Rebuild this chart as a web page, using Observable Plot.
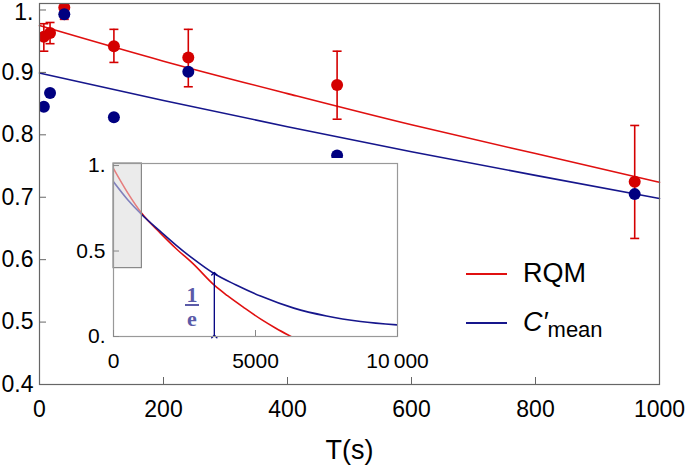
<!DOCTYPE html>
<html><head><meta charset="utf-8">
<script src="https://cdn.jsdelivr.net/npm/d3@7"></script>
<script src="https://cdn.jsdelivr.net/npm/@observablehq/plot@0.6"></script>
<style>
body{margin:0;background:#fff;}
#wrap{position:relative;width:685px;height:474px;font-family:"Liberation Sans",Arial,sans-serif;overflow:hidden;}
#inset{position:absolute;left:73px;top:158px;}
.sw{position:absolute;left:466px;width:41px;height:2px;}
.lg{position:absolute;left:523px;font-size:27px;line-height:27px;color:#000;white-space:nowrap;}
#frac{position:absolute;left:181px;top:285px;width:22px;text-align:center;font:bold 22px "Liberation Serif",serif;color:#5b5ba8;line-height:19px;}
</style></head><body><div id="wrap"></div>
<script>
// ---- main chart data ----
const T = [7, 17, 40, 120, 240, 480, 960];
const rqmVal = [0.957, 0.963, 1.004, 0.942, 0.924, 0.880, 0.725];
const rqmLo  = [0.934, 0.946, 0.985, 0.916, 0.877, 0.825, 0.634];
const rqmHi  = [0.978, 0.980, 1.030, 0.969, 0.969, 0.934, 0.815];
const cmeanVal = [0.845, 0.867, 0.993, 0.828, 0.901, 0.767, 0.705];
const fitT = [0, 200, 400, 600, 800, 1000];
const rqmFit = [0.975, 0.918, 0.866, 0.816, 0.770, 0.724];
const cmeanFit = [0.899, 0.855, 0.813, 0.773, 0.735, 0.698];
const xTicks = [0, 200, 400, 600, 800, 1000];
const xTickLabels = ["0", "200", "400", "600", "800", "1000"];
const yTicks = [0.4, 0.5, 0.6, 0.7, 0.8, 0.9, 1.0];
const yTickLabels = ["0.4", "0.5", "0.6", "0.7", "0.8", "0.9", "1."];
// ---- inset data ----
const insRqmT = [0, 500, 1000, 1650, 2200, 2800, 3550, 4000, 4600, 5200, 5700, 6250];
const insRqm  = [0.982, 0.840, 0.719, 0.605, 0.515, 0.426, 0.300, 0.240, 0.168, 0.100, 0.050, 0.0];
const insCmT  = [0, 500, 1000, 1650, 2200, 2800, 3550, 4300, 5200, 6350, 7500, 8700, 10000];
const insCm   = [0.905, 0.800, 0.712, 0.615, 0.535, 0.455, 0.367, 0.303, 0.235, 0.166, 0.120, 0.088, 0.068];
const greyBox = [{x1: 0, x2: 1000, y1: 0.4, y2: 1.012}];
const arrowT = 3550, arrowTop = 0.367;
const inXTicks = [0, 5000, 10000];
const inXLabels = ["0", "5000", "10\u2009000"];
const inYTicks = [0, 0.5, 1];
const inYLabels = ["0.", "0.5", "1."];

const RED = "#d40000", REDL = "#e01010", BLUE = "#000080", BLUEL = "#16168c";

const pts = T.map((t, i) => ({T: t, r: rqmVal[i], lo: rqmLo[i], hi: rqmHi[i], b: cmeanVal[i]}));
const fit = fitT.map((t, i) => ({T: t, r: rqmFit[i], b: cmeanFit[i]}));
const xMap = new Map(xTicks.map((d, i) => [d, xTickLabels[i]]));
const yMap = new Map(yTicks.map((d, i) => [d, yTickLabels[i]]));
const capSym = {draw(ctx) { ctx.moveTo(-4.5, 0); ctx.lineTo(4.5, 0); }};

const main = Plot.plot({
  width: 685, height: 474,
  marginLeft: 39, marginRight: 26, marginTop: 3, marginBottom: 90,
  style: {fontFamily: "'Liberation Sans', Arial, sans-serif", fontSize: "23px", color: "#000", background: "#fff", overflow: "visible"},
  x: {domain: [0, 1000]},
  y: {domain: [0.4, 1.0104]},
  marks: [
    Plot.line(fit, {x: "T", y: "r", stroke: REDL, strokeWidth: 1.6, curve: "natural"}),
    Plot.line(fit, {x: "T", y: "b", stroke: BLUEL, strokeWidth: 1.6, curve: "natural"}),
    Plot.ruleX(pts, {x: "T", y1: "lo", y2: "hi", stroke: RED, strokeWidth: 1.6, clip: true}),
    Plot.dot(pts, {x: "T", y: "lo", symbol: capSym, stroke: RED, strokeWidth: 1.6, clip: true}),
    Plot.dot(pts, {x: "T", y: "hi", symbol: capSym, stroke: RED, strokeWidth: 1.6, clip: true}),
    Plot.dot(pts, {x: "T", y: "r", r: 6, fill: RED, clip: true}),
    Plot.dot(pts, {x: "T", y: "b", r: 6, fill: BLUE, clip: true}),
    Plot.frame({stroke: "#666", strokeWidth: 1.2}),
    Plot.axisX(xTicks, {tickSize: -7, tickPadding: 23, tickFormat: d => xMap.get(d), stroke: "#666", fill: "#000", label: null}),
    Plot.axisY(yTicks, {tickSize: -7, tickPadding: 13, tickFormat: () => "", stroke: "#666", label: null}),
    Plot.axisY(yTicks.slice(0, -1), {tickSize: 0, tickPadding: 6, tickFormat: d => yMap.get(d), fill: "#000", label: null}),
    Plot.axisY(yTicks.slice(-1), {tickSize: 0, tickPadding: 6, tickFormat: d => yMap.get(d), fill: "#000", label: null, dy: 3}),
    Plot.text(["T(s)"], {frameAnchor: "bottom", dy: 74, fontSize: 27, fill: "#000"})
  ]
});

const insR = insRqmT.map((t, i) => ({T: t, v: insRqm[i]}));
const insB = insCmT.map((t, i) => ({T: t, v: insCm[i]}));
const ixMap = new Map(inXTicks.map((d, i) => [d, inXLabels[i]]));
const iyMap = new Map(inYTicks.map((d, i) => [d, inYLabels[i]]));

const inset = Plot.plot({
  width: 345, height: 206,
  marginLeft: 40, marginRight: 21, marginTop: 5, marginBottom: 28,
  style: {fontFamily: "'Liberation Sans', Arial, sans-serif", fontSize: "21px", color: "#000", background: "#fff", overflow: "visible"},
  x: {domain: [0, 10000]},
  y: {domain: [0, 1.012]},
  marks: [
    Plot.rect(greyBox, {x1: "x1", x2: "x2", y1: "y1", y2: "y2", fill: "#ebebeb"}),
    Plot.line(insR, {x: "T", y: "v", stroke: REDL, strokeWidth: 1.6, curve: "monotone-x", clip: true}),
    Plot.line(insB, {x: "T", y: "v", stroke: BLUEL, strokeWidth: 1.6, curve: "monotone-x", clip: true}),
    Plot.rect(greyBox, {x1: "x1", x2: "x2", y1: "y1", y2: "y2", fill: "#ebebeb", fillOpacity: 0.5}),
    Plot.rect(greyBox, {x1: "x1", x2: "x2", y1: "y1", y2: "y2", fill: "none", stroke: "#888", strokeWidth: 1.2}),
    Plot.link([{x: arrowT, y1: 0, y2: arrowTop}], {x1: "x", x2: "x", y1: "y1", y2: "y2", stroke: BLUE, strokeWidth: 1.3, marker: "arrow"}),
    Plot.frame({stroke: "#999", strokeWidth: 1.2}),
    Plot.axisX(inXTicks, {tickSize: -6, tickPadding: 23, tickFormat: d => ixMap.get(d), stroke: "#888", fill: "#000", label: null}),
    Plot.axisY(inYTicks, {tickSize: -6, tickPadding: 14, tickFormat: d => iyMap.get(d), stroke: "#888", fill: "#000", label: null})
  ]
});
inset.id = "inset";

const wrap = document.getElementById("wrap");
wrap.appendChild(main);
wrap.appendChild(inset);

const frac = document.createElement("div");
frac.id = "frac";
frac.innerHTML = '<div>1</div><div style="height:2px;background:#5b5ba8;margin:0 4px 3px 4px;"></div><div>e</div>';
wrap.appendChild(frac);

const legendNames = ["RQM", "C\u2032"];
const legendColors = [REDL, BLUEL];
const legendY = [274, 323];
legendNames.forEach((name, i) => {
  const s = document.createElement("div");
  s.className = "sw";
  s.style.top = (legendY[i] - 1) + "px";
  s.style.background = legendColors[i];
  wrap.appendChild(s);
  const t = document.createElement("div");
  t.className = "lg";
  t.style.top = (legendY[i] - 14) + "px";
  t.innerHTML = i === 1 ? '<i>' + name + '</i><span style="font-size:22px;position:relative;top:6px;">mean</span>' : name;
  wrap.appendChild(t);
});
</script>
</body></html>
